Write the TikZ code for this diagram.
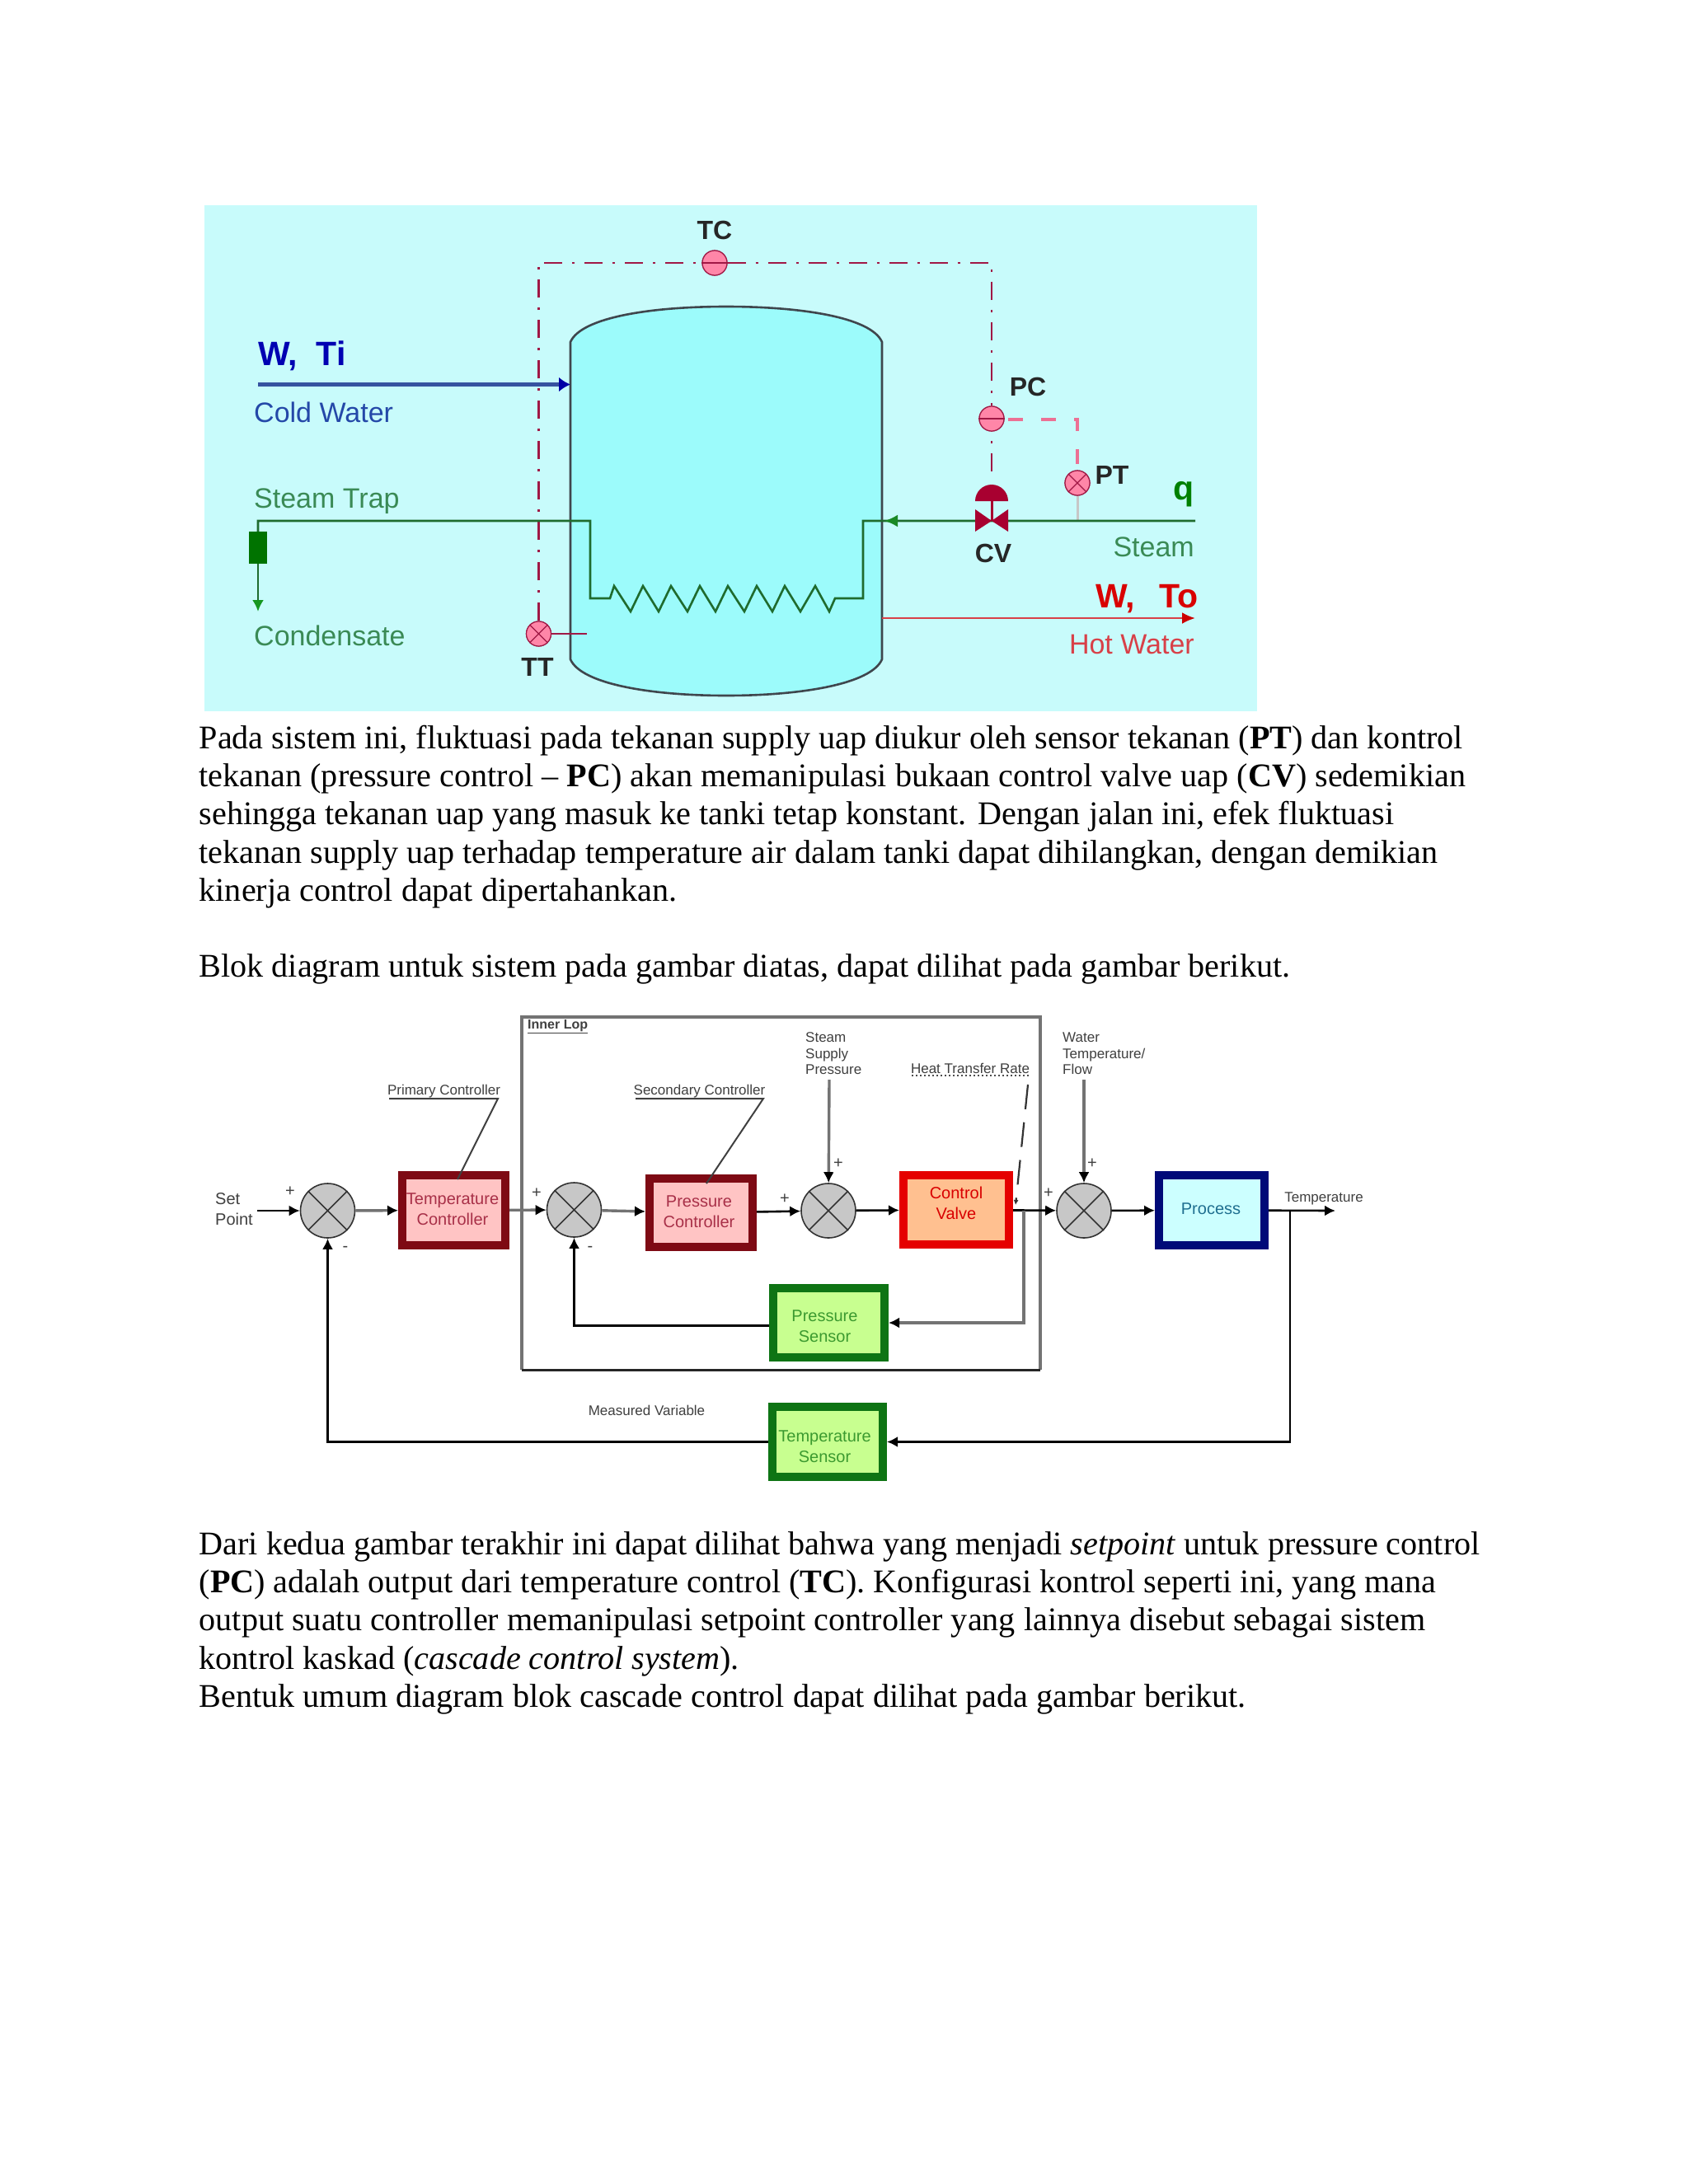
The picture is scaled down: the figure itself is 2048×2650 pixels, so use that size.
\documentclass[tikz,border=0pt]{standalone}
\usepackage{fontspec}
\setmainfont{Liberation Serif}
\setsansfont{Liberation Sans}
\usetikzlibrary{arrows.meta}
\definecolor{panelc}{HTML}{C8FBFB}
\definecolor{tankc}{HTML}{9CFBFB}
\definecolor{ctrlc}{HTML}{A01845}
\definecolor{pinkc}{HTML}{FF86A8}
\definecolor{steamc}{HTML}{1F6B2E}
\definecolor{valvec}{HTML}{A80030}
\definecolor{bluet}{HTML}{2448A8}
\definecolor{greent}{HTML}{3A8A55}
\definecolor{redt}{HTML}{D84048}
\definecolor{dredb}{HTML}{7E0A14}
\definecolor{pinkf}{HTML}{FFC4C4}
\definecolor{redtx}{HTML}{A83048}
\definecolor{orgf}{HTML}{FFC090}
\definecolor{navyb}{HTML}{000A78}
\definecolor{cyanf}{HTML}{CCFFFF}
\definecolor{proct}{HTML}{1F6F90}
\definecolor{grnb}{HTML}{0E7414}
\definecolor{grnf}{HTML}{C8FF90}
\definecolor{grntx}{HTML}{3C9A30}
\tikzset{
  x=1pt,y=-1pt,
  bodyline/.style={anchor=base west,inner sep=0pt,font=\rmfamily\fontsize{40.15}{46.2}\selectfont},
  lab/.style={inner sep=0pt,font=\sffamily\fontsize{34}{40}\selectfont},
  blab/.style={inner sep=0pt,font=\sffamily\bfseries\fontsize{32}{38}\selectfont,text=black!85},
  bigl/.style={inner sep=0pt,font=\sffamily\bfseries\fontsize{41}{46}\selectfont},
  inst/.style={circle,draw=ctrlc,fill=pinkc,line width=1.2pt,minimum size=30pt,inner sep=0pt},
  ctrl/.style={draw=ctrlc,line width=2.2pt,dash pattern=on 22pt off 12pt on 3pt off 12pt},
  pipe/.style={draw=steamc,line width=2.6pt},
  sumn/.style={circle,draw=black!80,fill=black!22,line width=1.6pt,minimum size=66pt,inner sep=0pt},
  blk/.style={draw,line width=10pt,inner sep=0pt},
  btxt/.style={inner sep=0pt,align=center,font=\sffamily\fontsize{20}{25}\selectfont},
  small/.style={inner sep=0pt,text=black!75,font=\sffamily\fontsize{17}{20}\selectfont,align=left},
  sign/.style={inner sep=0pt,text=black!75,font=\sffamily\fontsize{20}{20}\selectfont},
  sig/.style={draw=black,line width=2.6pt,-{Latex[length=13pt,width=13pt]}},
  gsig/.style={draw=black!55,line width=3.4pt,-{Latex[length=13pt,width=13pt,black]}},
  lead/.style={draw=black!75,line width=2pt},
}
\begin{document}
\begin{tikzpicture}
\useasboundingbox (0,0) rectangle (2048,2650);
\fill[white] (0,0) rectangle (2048,2650);
% ---------- process panel
\fill[panelc] (248,249) rectangle (1525,863);
\coordinate (cnw) at (653.5,319);
\coordinate (cne) at (1203,319);
\node[inst] (tc) at (867,319) {};
\node[inst] (tt) at (653.5,769) {};
\node[inst] (pc) at (1203,508) {};
\node[inst] (pt) at (1307,586) {};
\coordinate (cvtop) at (1203,572);
\draw[ctrl] (tt) -- (cnw) -- (tc);
\draw[ctrl] (tc) -- (cne) -- (pc);
\draw[ctrl] (cvtop) -- (pc);
% tank
\draw[fill=tankc,draw=black!80!cyan,line width=2.6pt] (692,415) .. controls (705,385) and (790,372) .. (881,372) .. controls (972,372) and (1057,385) .. (1070,415) -- (1070,800) .. controls (1057,830) and (972,844) .. (881,844) .. controls (790,844) and (705,830) .. (692,800) -- cycle;
% redraw the instruments above lines
\node[inst] at (tc) {};
\draw[ctrlc,line width=1.6pt] (tc.west) -- (tc.east) -- ++(14,0);
\coordinate (ttend) at (712,769);
\draw[ctrlc,line width=2pt] (tt) -- (ttend);
\node[inst] at (tt) {};
\draw[ctrlc,line width=1.2pt] (tt.45) -- (tt.225) (tt.135) -- (tt.-45);
\node[inst] at (pc) {};
\draw[ctrlc,line width=1.6pt] (pc.west) -- (pc.east);
% PC to PT
\coordinate (pcptc) at (1307,509);
\draw[draw=pinkc!80!ctrlc,line width=3.2pt,dash pattern=on 18pt off 22pt] (pc) ++(20,1) -- (pcptc) -- (pt);
% PT to steam line
\coordinate (ptjoin) at (1307,632);
\draw[draw=black!22,line width=3pt] (pt) -- (ptjoin);
\node[inst] at (pt) {};
\draw[ctrlc,line width=1.2pt] (pt.45) -- (pt.225) (pt.135) -- (pt.-45);
% cold water
\coordinate (cwa) at (313,466.5);
\coordinate (cwb) at (692,466.5);
\draw[draw=bluet!80!gray,line width=5pt,-{Latex[length=14pt,width=18pt,blue!65!black]}] (cwa) -- (cwb);
% steam outlet, trap and coil
\coordinate (tr) at (313,632);
\coordinate (trd) at (313,742);
\node[draw=none,fill=green!45!black,minimum width=22pt,minimum height=39pt,inner sep=0pt] (trap) at (313,664.5) {};
\draw[pipe] (trap.north) -- (tr) -- (716,632) -- (716,726) -- (740,726)
  -- (745,711) -- (765,742) -- (780,711) -- (799,742) -- (814,711) -- (834,742) -- (849,711) -- (868,742)
  -- (883,711) -- (903,742) -- (918,711) -- (937,742) -- (952,711) -- (971,742) -- (989,711) -- (1006,742)
  -- (1013,726) -- (1047,726) -- (1047,632) -- (1450,632);
\draw[pipe,-{Latex[length=14pt,width=14pt,steamc!70!green]}] (trap.south) -- (trd);
\coordinate (sta) at (1100,632);
\coordinate (stb) at (1073,632);
\draw[pipe,-{Latex[length=16pt,width=15pt,steamc!80!green]}] (sta) -- (stb);
% hot water
\coordinate (hwa) at (1070,750);
\coordinate (hwb) at (1450,750);
\draw[draw=redt,line width=2.6pt,-{Latex[length=16pt,width=14pt,red!80!black]}] (hwa) -- (hwb);
% valve
\fill[valvec] (1183,608) arc[start angle=180,end angle=360,radius=20] -- cycle;
\draw[valvec,line width=3pt] (1203,608) -- (1203,632);
\fill[valvec] (1183,618) -- (1203,632) -- (1183,645) -- cycle;
\fill[valvec] (1223,618) -- (1203,632) -- (1223,645) -- cycle;
% process labels
\node[blab] (ltc) at (867,279) {TC};
\node[blab] (ltt) at (652,809) {TT};
\node[blab] (lpc) at (1247,469) {PC};
\node[blab] (lpt) at (1349,576) {PT};
\node[blab] (lcv) at (1205,671) {CV};
\node[bigl,text=blue!70!black,anchor=west] (lwti) at (313,432) {W,\ \ Ti};
\node[lab,text=bluet,anchor=west] (lcold) at (308,500.5) {Cold Water};
\node[lab,text=greent,anchor=west] (ltrap) at (308,608) {Steam Trap};
\node[lab,text=greent,anchor=west] (lcond) at (308,771) {Condensate};
\node[bigl,text=green!50!black] (lq) at (1436,600) {q};
\node[lab,text=greent,anchor=east] (lsteam) at (1449,664) {Steam};
\node[bigl,text=red!85!black,anchor=east] (lwto) at (1454,727) {W,\ \ \,To};
\node[lab,text=redt,anchor=east] (lhot) at (1449,782) {Hot Water};
% ---------- body text
\node[bodyline] (t1) at (241.5,908.5) {Pada sistem ini, fluktuasi pada tekanan supply uap diukur oleh sensor tekanan (\textbf{PT}) dan kontrol};
\node[bodyline] (t2) at (241.5,954.7) {tekanan (pressure control – \textbf{PC}) akan memanipulasi bukaan control valve uap (\textbf{CV}) sedemikian};
\node[bodyline] (t3) at (241.5,1000.9) {sehingga tekanan uap yang masuk ke tanki tetap konstant. Dengan jalan ini, efek fluktuasi};
\node[bodyline] (t4) at (241.5,1047.1) {tekanan supply uap terhadap temperature air dalam tanki dapat dihilangkan, dengan demikian};
\node[bodyline] (t5) at (241.5,1093.3) {kinerja control dapat dipertahankan.};
\node[bodyline] (t6) at (241.5,1185.7) {Blok diagram untuk sistem pada gambar diatas, dapat dilihat pada gambar berikut.};
\node[bodyline] (t7) at (241.5,1886.5) {Dari kedua gambar terakhir ini dapat dilihat bahwa yang menjadi \textit{setpoint} untuk pressure control};
\node[bodyline] (t8) at (241.5,1932.7) {(\textbf{PC}) adalah output dari temperature control (\textbf{TC}). Konfigurasi kontrol seperti ini, yang mana};
\node[bodyline] (t9) at (241.5,1978.9) {output suatu controller memanipulasi setpoint controller yang lainnya disebut sebagai sistem};
\node[bodyline] (t10) at (241.5,2025.1) {kontrol kaskad (\textit{cascade control system}).};
\node[bodyline] (t11) at (241.5,2071.3) {Bentuk umum diagram blok cascade control dapat dilihat pada gambar berikut.};
% ---------- block diagram
\coordinate (ibnw) at (633,1234); \coordinate (ibne) at (1262,1234);
\coordinate (ibsw) at (633,1662); \coordinate (ibse) at (1262,1662);
\draw[draw=black!55,line width=4.5pt] (ibsw) -- (ibnw) -- (ibne) -- (ibse);
\draw[draw=black!85,line width=3pt] (ibsw) -- (ibse);
\node[small,anchor=west,font=\sffamily\bfseries\fontsize{16}{20}\selectfont] (linner) at (640,1246) {\underline{Inner Lop}};
\node[sumn] (s1) at (397.5,1469) {};
\node[sumn] (s2) at (696.5,1468) {};
\node[sumn] (s3) at (1005,1469) {};
\node[sumn] (s4) at (1315,1469) {};
\foreach \s in {s1,s2,s3,s4}{\draw[black!80,line width=1.6pt] (\s.45) -- (\s.225) (\s.135) -- (\s.-45);}
\node[blk,draw=dredb,fill=pinkf,minimum width=125pt,minimum height=85pt] (tcb) at (550.5,1468.5) {};
\node[blk,draw=dredb,fill=pinkf,minimum width=125pt,minimum height=83pt] (pcb) at (850.5,1471.5) {};
\node[blk,draw=red!90!black,fill=orgf,minimum width=128pt,minimum height=84pt] (cvb) at (1160,1468) {};
\node[blk,draw=navyb,fill=cyanf,minimum width=128pt,minimum height=85pt] (prb) at (1470,1468.5) {};
\node[blk,draw=grnb,fill=grnf,minimum width=135pt,minimum height=84pt] (psb) at (1005.5,1605) {};
\node[blk,draw=grnb,fill=grnf,minimum width=134pt,minimum height=85pt] (tsb) at (1004,1749.5) {};
\node[btxt,text=redtx] (tct) at (549,1467) {Temperature\\Controller};
\node[btxt,text=redtx] (pct) at (848,1470) {Pressure\\Controller};
\node[btxt,text=red!85!black] (cvt) at (1160,1459.5) {Control\\Valve};
\node[btxt,text=proct] (prt) at (1469,1467) {Process};
\node[btxt,text=grntx] (pst) at (1000.5,1609.5) {Pressure\\Sensor};
\node[btxt,text=grntx] (tst) at (1000.5,1755) {Temperature\\Sensor};
\node[small,font=\sffamily\fontsize{20}{24.5}\selectfont] (lsp) at (284,1467) {Set\\Point};
\node[small,anchor=north west,font=\sffamily\fontsize{17}{19.7}\selectfont] (lssp) at (977,1252.5) {Steam\\Supply\\Pressure};
\node[small,anchor=north west,font=\sffamily\fontsize{17}{19.7}\selectfont] (lwt) at (1289,1252.5) {Water\\Temperature/\\Flow};
\node[small] (lprim) at (538.5,1324.5) {Primary Controller};
\node[small] (lsec) at (848.5,1324.5) {Secondary Controller};
\node[small] (lheat) at (1177,1296) {Heat Transfer Rate};
\node[small] (ltemp) at (1606,1454.5) {Temperature};
\node[small] (lmeas) at (784.5,1711.5) {Measured Variable};
\node[sign] at (352,1446) {+};
\node[sign] at (419,1515) {-};
\node[sign] at (651,1448) {+};
\node[sign] at (716,1515) {-};
\node[sign] at (952,1455) {+};
\node[sign] at (1017,1412) {+};
\node[sign] at (1272,1448) {+};
\node[sign] at (1325,1412) {+};
% leaders
\coordinate (pul) at (472,1333); \coordinate (pur) at (604,1333); \coordinate (pue) at (555,1431);
\coordinate (sul) at (771,1333); \coordinate (sur) at (926,1333); \coordinate (sue) at (857,1436);
\coordinate (hul) at (1106,1305); \coordinate (hur) at (1249,1305);
\draw[lead] (pul) -- (pur) -- (pue);
\draw[lead] (sul) -- (sur) -- (sue);
\draw[draw=black!70,line width=1.6pt,dash pattern=on 2pt off 3pt] (hul) -- (hur);
% signal lines
\coordinate (spin) at (312,1469);
\coordinate (ssin) at (1006,1310);
\coordinate (wtin) at (1315,1310);
\coordinate (outp) at (1620,1469);
\coordinate (tap) at (1242,1469);
\coordinate (taq) at (1565,1469);
\coordinate (hda) at (1247,1316);
\coordinate (hdb) at (1232,1462);
\draw[sig] (spin) -- (s1);
\draw[gsig] (s1) -- (tcb);
\draw[gsig] (tcb) -- (s2);
\draw[gsig] (s2) -- (pcb);
\draw[sig] (pcb) -- (s3);
\draw[gsig] (ssin) -- (s3);
\draw[sig] (s3) -- (cvb);
\draw[sig] (cvb) -- (s4);
\draw[gsig] (wtin) -- (s4);
\draw[sig] (s4) -- (prb);
\draw[sig] (prb) -- (outp);
\draw[draw=black!80,line width=2.2pt,dash pattern=on 30pt off 16pt,-{Latex[length=6pt,width=6pt]}] (hda) -- (hdb);
\draw[gsig] (tap) |- (psb);
\draw[sig] (psb.west |- 0,1608.5) -| (s2.south);
\draw[sig] (taq) |- (tsb);
\draw[sig] (tsb) -| (s1);
\end{tikzpicture}
\end{document}
